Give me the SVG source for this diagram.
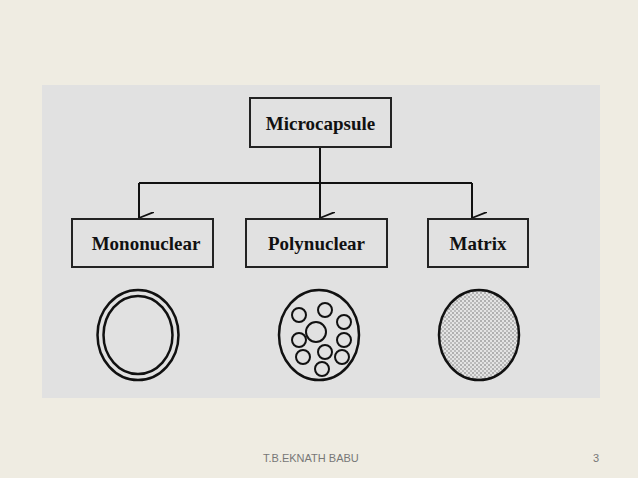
<svg xmlns="http://www.w3.org/2000/svg" width="638" height="478" viewBox="0 0 638 478">
<style>
.box{fill:#e1e1e1;stroke:#222;stroke-width:2}
.lbl{font-family:"Liberation Serif",serif;font-weight:bold;font-size:19px;fill:#111;text-anchor:middle}
.c{fill:none;stroke:#111;stroke-width:2.5}
.s{fill:none;stroke:#111;stroke-width:2}
.ft{font-family:"Liberation Sans",sans-serif;font-size:11px;fill:#777}
</style>
<defs>
<marker id="v" viewBox="0 0 12 16" refX="6" refY="15" markerWidth="12" markerHeight="16" markerUnits="userSpaceOnUse" orient="auto-start-reverse"><path d="M0 0 L6 15 L12 0" fill="none" stroke="#111" stroke-width="1.8"/></marker>
<pattern id="dots" width="4" height="4" patternUnits="userSpaceOnUse"><rect width="4" height="4" fill="#e4e4e4"/><circle cx="1" cy="1" r="0.7" fill="#555"/><circle cx="3" cy="3" r="0.7" fill="#777"/></pattern>
</defs>
<rect width="638" height="478" fill="#efece2"/>
<rect x="42" y="85" width="558" height="313" fill="#e1e1e1"/>
<g id="connectors" fill="none" stroke="#111" stroke-width="2">
<path d="M320 147 V218" marker-end="url(#v)"/>
<path d="M139 183 H472"/>
<path d="M139 183 V218" marker-end="url(#v)"/>
<path d="M472 183 V218" marker-end="url(#v)"/>
</g>
<g id="microcapsule"><rect class="box" x="250" y="98" width="141" height="49"/><text class="lbl" x="320.5" y="130">Microcapsule</text></g>
<g id="mononuclear"><rect class="box" x="72" y="219" width="141" height="48"/><text class="lbl" x="146" y="250">Mononuclear</text></g>
<g id="polynuclear"><rect class="box" x="246" y="219" width="141" height="48"/><text class="lbl" x="316.5" y="250">Polynuclear</text></g>
<g id="matrix"><rect class="box" x="428" y="219" width="100" height="48"/><text class="lbl" x="478" y="250">Matrix</text></g>
<g id="mono-shape"><ellipse class="c" cx="138" cy="335" rx="40.5" ry="45"/><ellipse class="c" cx="138" cy="335" rx="34.5" ry="39"/></g>
<g id="poly-shape"><ellipse class="c" cx="319" cy="335" rx="40" ry="45"/>
<circle class="s" cx="299" cy="315" r="7"/><circle class="s" cx="325" cy="310" r="7"/><circle class="s" cx="344" cy="322" r="7"/><circle class="s" cx="316" cy="332" r="10"/><circle class="s" cx="299" cy="340" r="7"/><circle class="s" cx="344" cy="340" r="7"/><circle class="s" cx="303" cy="357" r="7"/><circle class="s" cx="325" cy="352" r="7"/><circle class="s" cx="342" cy="357" r="7"/><circle class="s" cx="322" cy="369" r="7"/></g>
<g id="matrix-shape"><ellipse cx="479" cy="335" rx="40" ry="45" fill="url(#dots)" stroke="#111" stroke-width="2.5"/></g>
<text class="ft" x="263" y="462">T.B.EKNATH BABU</text>
<text class="ft" x="593" y="462">3</text>
</svg>
